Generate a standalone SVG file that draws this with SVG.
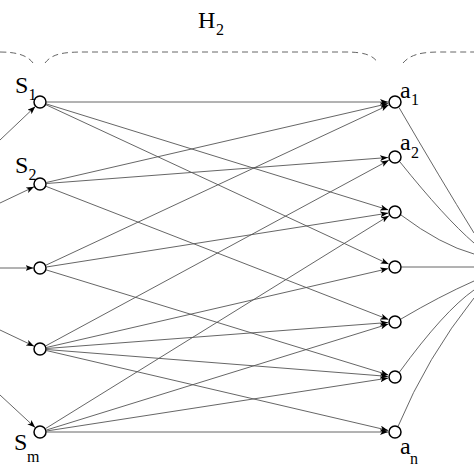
<svg xmlns="http://www.w3.org/2000/svg" width="474" height="474" viewBox="0 0 474 474">
<defs>
<marker id="arr" viewBox="0 0 8 6" refX="8" refY="3" markerWidth="8" markerHeight="6" markerUnits="userSpaceOnUse" orient="auto">
<path d="M0,0 L8,3 L0,6 L2,3 z" fill="#000"/>
</marker>
<style>
.node{fill:#fff;stroke:#000;stroke-width:1.5}
.edge{fill:none;stroke:#555;stroke-width:0.9}
.arr{marker-end:url(#arr)}
.brace{fill:none;stroke:#666;stroke-width:1;stroke-dasharray:6,4}
.lbl{font-family:"Liberation Serif","Times New Roman",serif;font-size:24px;fill:#000}
.sub{font-family:"Liberation Serif","Times New Roman",serif;font-size:16px;fill:#000}
</style>
</defs>
<rect width="474" height="474" fill="#fff"/>

<g id="braces">
<path class="brace" d="M0,52 C18,52 28,56 33,63"/>
<path class="brace" d="M45,63 C52,54 62,52 85,52 L345,52 C364,52 373,55 378,63"/>
<path class="brace" d="M403,63 C410,55 420,52 440,52 L474,52"/>
<text class="lbl" x="198" y="28">H</text><text class="sub" x="216" y="35">2</text>
</g>

<g id="connectors">
<line class="edge arr" x1="0" y1="140" x2="35.3" y2="106.5"/>
<line class="edge arr" x1="0" y1="203" x2="34.1" y2="186.8"/>
<line class="edge arr" x1="0" y1="268" x2="33.5" y2="268"/>
<line class="edge arr" x1="0" y1="330" x2="34.1" y2="346.2"/>
<line class="edge arr" x1="0" y1="395" x2="35.2" y2="427.6"/>

<line class="edge arr" x1="46.5" y1="102" x2="388" y2="102"/>
<line class="edge arr" x1="46.2" y1="103.9" x2="388.3" y2="209.9"/>
<line class="edge arr" x1="45.9" y1="104.7" x2="388.7" y2="264.1"/>
<line class="edge arr" x1="46.3" y1="182.5" x2="388.2" y2="103.6"/>
<line class="edge arr" x1="46.5" y1="183.5" x2="388" y2="157.5"/>
<line class="edge arr" x1="46.1" y1="186.4" x2="388.5" y2="319.5"/>
<line class="edge arr" x1="45.9" y1="265.2" x2="388.7" y2="105"/>
<line class="edge arr" x1="46.4" y1="267" x2="388.1" y2="213.1"/>
<line class="edge arr" x1="46.2" y1="269.9" x2="388.3" y2="374.9"/>
<line class="edge arr" x1="45.7" y1="345.9" x2="388.8" y2="160.3"/>
<line class="edge arr" x1="46.3" y1="347.5" x2="388.2" y2="268.6"/>
<line class="edge arr" x1="46.5" y1="348.5" x2="388" y2="322.5"/>
<line class="edge arr" x1="46.5" y1="349.5" x2="388" y2="376.4"/>
<line class="edge arr" x1="46.3" y1="350.5" x2="388.2" y2="430.4"/>
<line class="edge arr" x1="45.5" y1="428.6" x2="389" y2="215.7"/>
<line class="edge arr" x1="46.2" y1="430.1" x2="388.3" y2="324.1"/>
<line class="edge arr" x1="46.4" y1="431" x2="388.1" y2="378.1"/>
<line class="edge arr" x1="46.5" y1="432" x2="388" y2="432"/>

<path class="edge" d="M399,107.5 Q440,178 474,233"/>
<path class="edge" d="M400,162 Q445,218 474,243"/>
<path class="edge" d="M401,215 Q441,245 474,254"/>
<line class="edge" x1="401.5" y1="267" x2="474" y2="267"/>
<path class="edge" d="M401,319 Q440,296 474,281"/>
<path class="edge" d="M399.5,372 Q444,311 474,290"/>
<path class="edge" d="M398,426.5 Q427,357 474,298"/>
</g>

<g id="S1"><circle class="node" cx="40" cy="102" r="6"/><text class="lbl" x="15" y="93">S</text><text class="sub" x="28.5" y="100">1</text></g>
<g id="S2"><circle class="node" cx="40" cy="184" r="6"/><text class="lbl" x="15" y="173">S</text><text class="sub" x="28.5" y="180">2</text></g>
<g id="S3"><circle class="node" cx="40" cy="268" r="6"/></g>
<g id="S4"><circle class="node" cx="40" cy="349" r="6"/></g>
<g id="Sm"><circle class="node" cx="40" cy="432" r="6"/><text class="lbl" x="14" y="450">S</text><text class="sub" x="27" y="462">m</text></g>

<g id="a1"><circle class="node" cx="395" cy="102" r="6"/><text class="lbl" x="400" y="98">a</text><text class="sub" x="411" y="105">1</text></g>
<g id="a2"><circle class="node" cx="395" cy="157" r="6"/><text class="lbl" x="400" y="150">a</text><text class="sub" x="411" y="158">2</text></g>
<g id="a3"><circle class="node" cx="395" cy="212" r="6"/></g>
<g id="a4"><circle class="node" cx="395" cy="267" r="6"/></g>
<g id="a5"><circle class="node" cx="395" cy="322" r="6"/></g>
<g id="a6"><circle class="node" cx="395" cy="377" r="6"/></g>
<g id="an"><circle class="node" cx="395" cy="432" r="6"/><text class="lbl" x="400" y="454">a</text><text class="sub" x="410" y="464">n</text></g>
</svg>
